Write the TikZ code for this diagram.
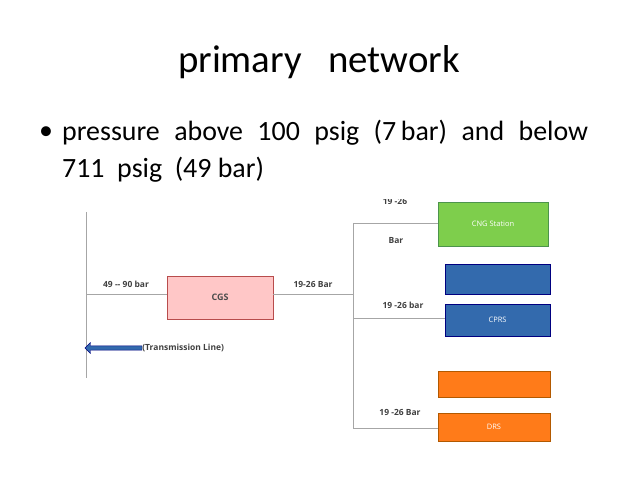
\documentclass[tikz,border=0pt]{standalone}
\usepackage{fontspec}
\setmainfont{Carlito}
\newfontfamily\lab{Open Sans}
\usetikzlibrary{shapes.arrows}
\begin{document}
\begin{tikzpicture}[x=1bp,y=-1bp,
  ln/.style={draw=gray!70,line width=0.8bp},
  lb/.style={font=\lab\fontsize{8.5}{9}\selectfont\bfseries,text=black!75,inner sep=0},
  bx/.style={line width=0.8bp}]
\useasboundingbox (0,0) rectangle (638,478);
\node[font=\fontsize{39}{40}\selectfont] (title) at (319,62) {primary\ \ \ network};
\node[font=\fontsize{28}{30}\selectfont] (bul) at (46,133) {•};
\node[font=\fontsize{28}{30}\selectfont,anchor=west,inner sep=0] (t1) at (62,133) {\makebox[526bp][s]{pressure above 100 psig (7\,bar) and below}};
\node[font=\fontsize{28}{30}\selectfont,anchor=west,inner sep=0] (t2) at (62,170) {711\ \ psig\ \ (49 bar)};
% main trunk
\coordinate (v1) at (86,212); \coordinate (v2) at (86,378);
\draw[ln] (v1) -- (v2);
\node[bx,draw=red!60!black!70,fill=red!22,minimum width=106bp,minimum height=43bp,inner sep=0,
  font=\lab\fontsize{9}{10}\selectfont\bfseries,text=black!70] (cgs) at (220,297.5) {CGS};
\coordinate (h0) at (86,294);
\draw[ln] (h0) -- (cgs.west|-h0);
\coordinate (b0) at (353,294);
\draw[ln] (cgs.east|-h0) -- (b0);
\coordinate (bt) at (353,223); \coordinate (bb) at (353,428);
\draw[ln] (bt) -- (bb);
% boxes
\node[bx,draw=green!40!black!70,fill=green!45!olive!70!white,minimum width=110bp,minimum height=44bp,inner sep=0,
  font=\lab\fontsize{7.5}{8}\selectfont,text=white] (cng) at (493,224) {CNG Station};
\node[bx,draw=blue!50!black,fill=blue!55!cyan!60!black!80!white,minimum width=105bp,minimum height=30bp] (bl1) at (497.5,279) {};
\node[bx,draw=blue!50!black,fill=blue!55!cyan!60!black!80!white,minimum width=105bp,minimum height=32bp,
  font=\lab\fontsize{7.5}{8}\selectfont,text=white] (cprs) at (497.5,320) {CPRS};
\node[bx,draw=orange!70!black,fill=orange!85!red!90!white,minimum width=112bp,minimum height=26bp] (or1) at (494,384) {};
\node[bx,draw=orange!70!black,fill=orange!85!red!90!white,minimum width=112bp,minimum height=28bp,
  font=\lab\fontsize{7.5}{8}\selectfont,text=white] (drs) at (494,427) {DRS};
\draw[ln] (bt) -- (cng.west|-bt);
\coordinate (bm) at (353,318);
\draw[ln] (bm) -- (cprs.west|-bm);
\draw[ln] (bb) -- (drs.west|-bb);
% arrow
\node[single arrow,shape border rotate=180,draw=blue!50!black,fill=blue!55!cyan!60!black!80!white,
  minimum width=11bp,single arrow head extend=2bp,minimum height=57bp,inner sep=1bp] (arr) at (114.5,348) {};
\node[lb,anchor=west] (tl) at (arr.east) {(Transmission Line)};
% labels
\node[lb] (l1) at (126,284) {49 -- 90 bar};
\node[lb] (l2) at (313,284) {19-26 Bar};
\node[lb] (l3) at (396,241) {Bar};
\node[lb] (l4) at (403,305) {19 -26 bar};
\node[lb] (l5) at (400,412) {19 -26 Bar};
\begin{scope}
\clip (370,200) rectangle (420,204);
\node[lb] (l6) at (395,201) {19 -26};
\end{scope}
\end{tikzpicture}
\end{document}
